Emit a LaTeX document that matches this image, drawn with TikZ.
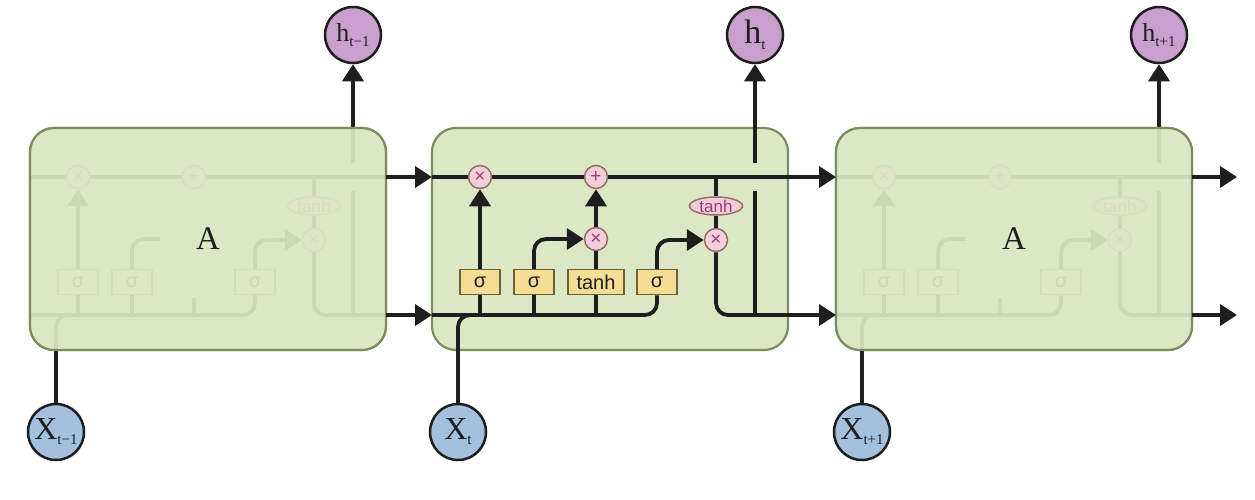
\documentclass[tikz,border=0pt]{standalone}
\usepackage{fontspec}
\setmainfont{Liberation Serif}
\setsansfont{Liberation Sans}
\usetikzlibrary{arrows.meta,shapes.geometric}

\definecolor{cellgreen}{RGB}{220,232,197}
\definecolor{celledge}{RGB}{122,142,98}
\definecolor{gateyellow}{RGB}{244,222,148}
\definecolor{gateedge}{RGB}{110,95,55}
\definecolor{oppink}{RGB}{242,206,220}
\definecolor{opedge}{RGB}{150,110,100}
\definecolor{optext}{RGB}{160,60,110}
\definecolor{hpurple}{RGB}{201,160,205}
\definecolor{xblue}{RGB}{163,193,222}
\definecolor{ink}{RGB}{30,30,30}

\newcommand{\lowidx}[1]{\raisebox{-0.35ex}{\fontsize{15}{15}\selectfont #1}}

\tikzset{
  cell/.style = {draw=celledge, line width=2.2pt, fill=cellgreen, rounded corners=24pt,
    minimum width=356pt, minimum height=222pt, text=ink, font=\fontsize{33}{33}\selectfont},
  flow/.style = {draw=ink, line width=3.8pt, rounded corners=12pt},
  arrowed/.style = {-{Triangle[length=17pt,width=21pt]}},
  gate/.style = {draw=gateedge, fill=gateyellow, line width=1.5pt, minimum width=40pt,
    minimum height=25pt, inner sep=0pt, text=ink, font=\sffamily\fontsize{20}{20}\selectfont},
  op/.style = {circle, draw=opedge, fill=oppink, line width=1.5pt, minimum size=23pt,
    inner sep=0pt, text=optext, font=\sffamily\fontsize{19}{19}\selectfont},
  squash/.style = {ellipse, draw=opedge, fill=oppink, line width=1.5pt, minimum width=53pt,
    minimum height=18pt, inner sep=0pt, text=optext, font=\sffamily\fontsize{17}{17}\selectfont},
  hstate/.style = {circle, draw=ink, fill=hpurple, line width=2.5pt, minimum size=56pt,
    inner sep=0pt, text=ink},
  xinput/.style = {circle, draw=ink, fill=xblue, line width=2.5pt, minimum size=56pt,
    inner sep=0pt, text=ink, font=\fontsize{32}{32}\selectfont}
}

% one lstm unit, in the coordinates of the middle cell
\newcommand{\lstminside}[3]{%
  \coordinate (cin) at (432,177);
  \coordinate (cout) at (788,177);
  \coordinate (hin) at (432,315);
  \coordinate (hout) at (788,315);
  \coordinate (hv) at (755,315);
  \coordinate (gaplow) at (755,191);
  \coordinate (gaphigh) at (755,163);
  \node[op] (fx) at (480,177) {×};
  \node[op] (ad) at (596,177) {+};
  \node[op] (ix) at (596,239) {#3};
  \node[op] (ox) at (716,240) {×};
  \node[squash] (th) at (716,206) {tanh};
  \node[gate] (g1) at (480,282) {σ};
  \node[gate] (g2) at (534,282) {σ};
  \node[gate, minimum width=56pt] (g3) at (596,282) {tanh};
  \node[gate] (g4) at (657,282) {σ};
  \node[hstate] (ht) at (755,35) {#1};
  \node[xinput] (xt) at (458,432) {#2};
  \draw[flow] (cin) -- (fx) -- (ad) -- (cout);
  \draw[flow] (hin) -| (g4);
  \draw[flow] (xt) |- (g1 |- hin);
  \draw[flow] (g1) -- (g1 |- hin);
  \draw[flow] (g2) -- (g2 |- hin);
  \draw[flow] (g3) -- (g3 |- hin);
  \draw[flow, arrowed] (g1) -- (fx);
  \draw[flow, arrowed] (g2) |- (ix);
  \draw[flow] (g3) -- (ix);
  \draw[flow, arrowed] (ix) -- (ad);
  \draw[flow, arrowed] (g4) |- (ox);
  \draw[flow] (th |- cin) -- (th);
  \draw[flow] (th) -- (ox);
  \draw[flow] (ox) |- (hout);
  \draw[flow] (hv) -- (gaplow);
  \draw[flow, arrowed] (gaphigh) -- (ht);
}

\begin{document}
\begin{tikzpicture}[x=1pt, y=-1pt]
  \useasboundingbox (0,0) rectangle (1255,499);

  % left unit, faded
  \node[cell] (cellLbase) at (208,239) {};
  \begin{scope}[xshift=-402pt, name prefix=L-]
    \lstminside{\fontsize{26}{26}\selectfont h\lowidx{t−1}}{X\lowidx{t−1}}{}
  \end{scope}
  \fill[cellgreen] (160,190) rectangle (233,298);
  \node[cell, fill opacity=0.92, text opacity=1] (cellL) at (208,239) {A};

  % middle unit
  \node[cell] (cellM) at (610,239) {};
  \lstminside{\fontsize{34}{34}\selectfont h\lowidx{t}}{X\lowidx{t}}{×}

  % right unit, faded
  \node[cell] (cellRbase) at (1014,239) {};
  \begin{scope}[xshift=404pt, name prefix=R-]
    \lstminside{\fontsize{26}{26}\selectfont h\lowidx{t+1}}{X\lowidx{t+1}}{}
  \end{scope}
  \fill[cellgreen] (966,190) rectangle (1039,298);
  \node[cell, fill opacity=0.92, text opacity=1] (cellR) at (1014,239) {A};

  \coordinate (endtop) at (1237,177);
  \coordinate (endbot) at (1237,315);
  \draw[flow, arrowed] (L-cout) -- (cin);
  \draw[flow, arrowed] (L-hout) -- (hin);
  \draw[flow, arrowed] (cout) -- (R-cin);
  \draw[flow, arrowed] (hout) -- (R-hin);
  \draw[flow, arrowed] (R-cout) -- (endtop);
  \draw[flow, arrowed] (R-hout) -- (endbot);
\end{tikzpicture}
\end{document}
